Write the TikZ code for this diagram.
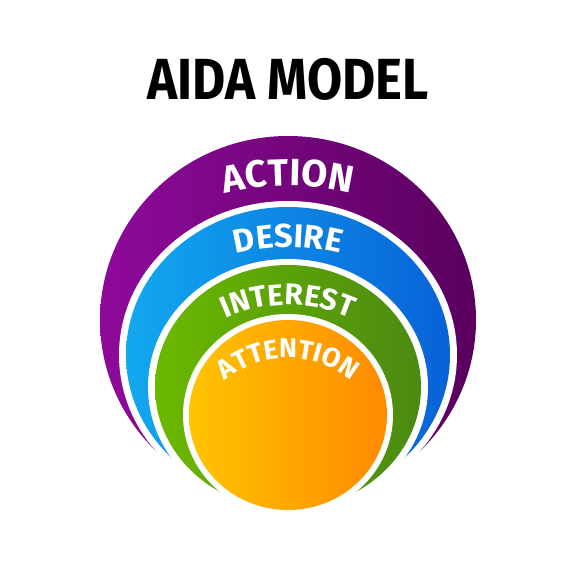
\documentclass[tikz,border=0pt]{standalone}
\usepackage{fontspec}
\setmainfont{Fira Sans}
\usepackage{xcolor}
\usetikzlibrary{decorations.text}
\definecolor{actionL}{HTML}{8E0A9A}
\definecolor{actionR}{HTML}{5A005E}
\definecolor{desireL}{HTML}{12A8EE}
\definecolor{desireR}{HTML}{0862D8}
\definecolor{interestL}{HTML}{6CB800}
\definecolor{interestR}{HTML}{4A8A12}
\definecolor{attentionL}{HTML}{FFC400}
\definecolor{attentionR}{HTML}{FF8A00}
\newcommand\bandfont[1]{\bfseries\fontsize{#1}{#1}\selectfont}
\tikzset{
    band-gap/.style = {fill=white},
    band-label/.style = {decorate, decoration={text along path, text align=center, text={#1}}},
    title-text/.style = {text=black, font=\bandfont{58}, inner sep=0pt},
}

\begin{document}
\begin{tikzpicture}[x=1pt, y=1pt]
\path[fill=white, use as bounding box] (0,0) rectangle (576,576);
\node[title-text] (title) at (288,497) {\scalebox{0.88}[1]{AIDA MODEL}};
% bands, outer to inner
\shade[left color=actionL, right color=actionR] (288,256) ellipse [x radius=188, y radius=184];
\fill[band-gap] (288,221) ellipse [x radius=169, y radius=154];
\shade[left color=desireL, right color=desireR] (288,221) ellipse [x radius=162, y radius=148];
\fill[band-gap] (288,189) ellipse [x radius=140, y radius=128];
\shade[left color=interestL, right color=interestR] (288,189) ellipse [x radius=133, y radius=122];
\fill[band-gap] (288,161) ellipse [x radius=105, y radius=101];
\shade[left color=attentionL, right color=attentionR] (288,161) ellipse [x radius=99, y radius=95];
% labels
\path[band-label={|\bandfont{38}\color{white}|ACTION}] (288,119) ++(140:271) arc [start angle=140, end angle=40, radius=271];
\path[band-label={|\bandfont{33}\color{white}|DESIRE}] (288,119) ++(145:210) arc [start angle=145, end angle=35, radius=210];
\path[band-label={|\bandfont{30}\color{white}|INTEREST}] (288,119) ++(150:152) arc [start angle=150, end angle=30, radius=152];
\path[band-label={|\bandfont{27}\color{white}|ATTENTION}] (288,119) ++(165:99) arc [start angle=165, end angle=15, radius=99];
\end{tikzpicture}
\end{document}
